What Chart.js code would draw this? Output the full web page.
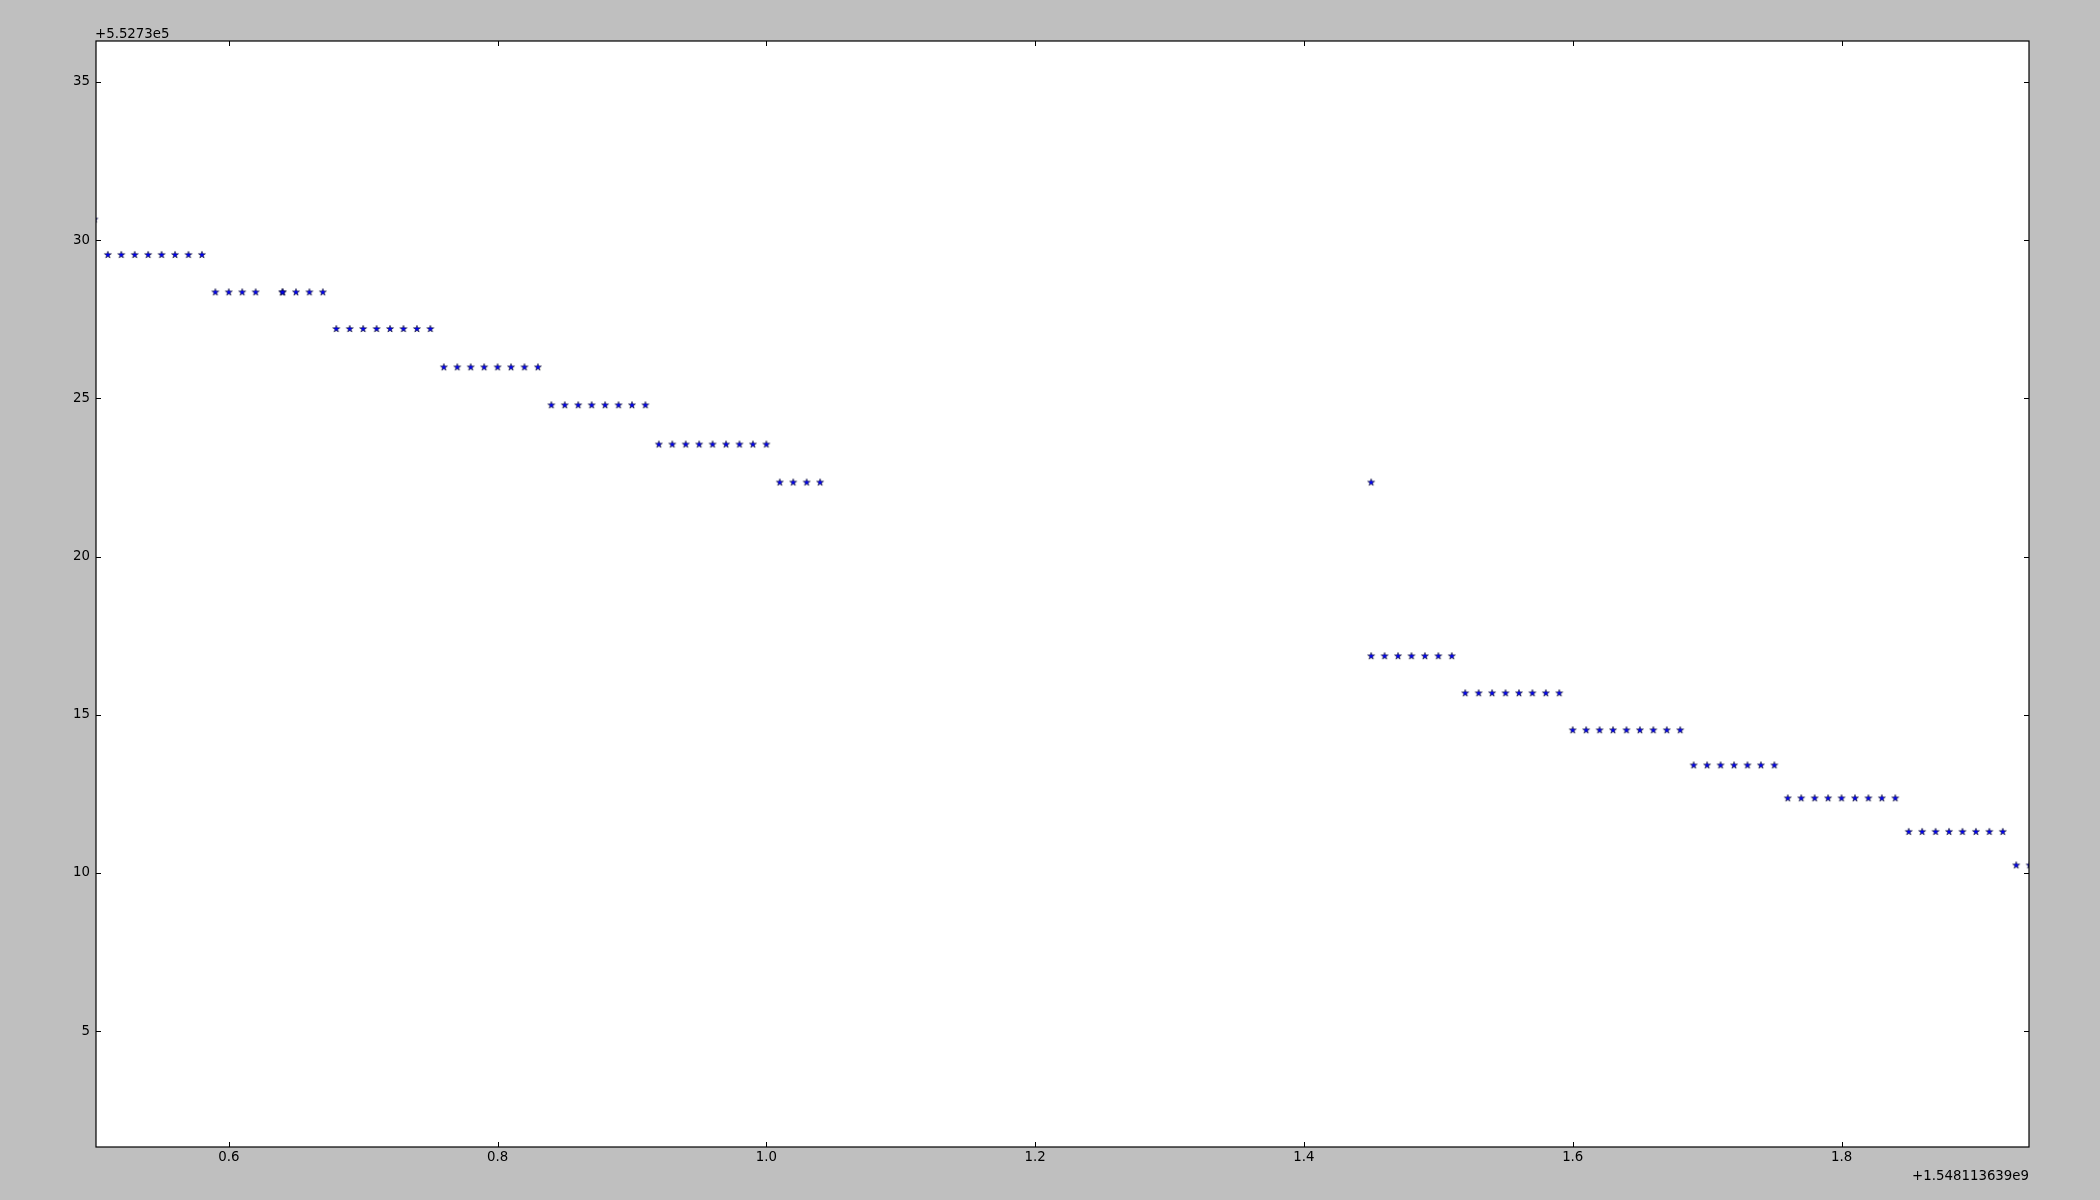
<!DOCTYPE html>
<html>
<head>
<meta charset="utf-8">
<script src="https://cdn.jsdelivr.net/npm/chart.js@4.4.1/dist/chart.umd.min.js"></script>
<style>
  body { margin: 0; background: #bfbfbf; }
  canvas { display: block; }
</style>
</head>
<body>
<canvas id="chart" width="2100" height="1200"></canvas>
<script>
// x: seconds, offset +1.548113639e9 ; y: offset +5.5273e5
// one level per group of samples (the value steps down over time)
const stepLevels = [30.65, 29.53, 28.35, 27.19, 25.98, 24.78, 23.54, 22.34, 22.34, 16.85, 15.68, 14.51, 13.40, 12.36, 11.30, 10.24];
const stepTimes = [
  [0.50],
  [0.51, 0.52, 0.53, 0.54, 0.55, 0.56, 0.57, 0.58],
  [0.59, 0.60, 0.61, 0.62, 0.64, 0.64, 0.65, 0.66, 0.67],
  [0.68, 0.69, 0.70, 0.71, 0.72, 0.73, 0.74, 0.75],
  [0.76, 0.77, 0.78, 0.79, 0.80, 0.81, 0.82, 0.83],
  [0.84, 0.85, 0.86, 0.87, 0.88, 0.89, 0.90, 0.91],
  [0.92, 0.93, 0.94, 0.95, 0.96, 0.97, 0.98, 0.99, 1.00],
  [1.01, 1.02, 1.03, 1.04],
  [1.45],
  [1.45, 1.46, 1.47, 1.48, 1.49, 1.50, 1.51],
  [1.52, 1.53, 1.54, 1.55, 1.56, 1.57, 1.58, 1.59],
  [1.60, 1.61, 1.62, 1.63, 1.64, 1.65, 1.66, 1.67, 1.68],
  [1.69, 1.70, 1.71, 1.72, 1.73, 1.74, 1.75],
  [1.76, 1.77, 1.78, 1.79, 1.80, 1.81, 1.82, 1.83, 1.84],
  [1.85, 1.86, 1.87, 1.88, 1.89, 1.90, 1.91, 1.92],
  [1.93, 1.94]
];
const xTicks = [0.6, 0.8, 1.0, 1.2, 1.4, 1.6, 1.8];
const yTicks = [5, 10, 15, 20, 25, 30, 35];
const xLimits = [0.5012, 1.9395];
const yLimits = [1.34, 36.29];
const xOffsetText = "+1.548113639e9";
const yOffsetText = "+5.5273e5";

const points = [];
stepTimes.forEach((times, i) => {
  times.forEach(t => points.push({ x: t, y: stepLevels[i] }));
});

// matplotlib-like '*' marker
function makeStar() {
  const c = document.createElement("canvas");
  c.width = 12; c.height = 12;
  const g = c.getContext("2d");
  const R = 3.7, r = R * 0.382;
  g.beginPath();
  for (let k = 0; k < 10; k++) {
    const rad = k % 2 === 0 ? R : r;
    const a = -Math.PI / 2 + k * Math.PI / 5;
    const px = 6 + rad * Math.cos(a), py = 6 + rad * Math.sin(a);
    if (k === 0) g.moveTo(px, py); else g.lineTo(px, py);
  }
  g.closePath();
  g.fillStyle = "#0000ff";
  g.fill();
  g.lineWidth = 0.5;
  g.strokeStyle = "#000";
  g.stroke();
  return c;
}
const star = makeStar();

const FONT = "'DejaVu Sans', sans-serif";
const FONT_SIZE = 13.33;

const framePlugin = {
  id: "frame",
  beforeDraw(chart) {
    const { ctx, chartArea: a } = chart;
    ctx.save();
    ctx.fillStyle = "#fff";
    ctx.fillRect(a.left, a.top, a.right - a.left, a.bottom - a.top);
    ctx.restore();
  },
  afterDraw(chart) {
    const { ctx, chartArea: a } = chart;
    const xs = chart.scales.x, ys = chart.scales.y;
    const len = 5;
    ctx.save();
    ctx.strokeStyle = "#000";
    ctx.lineWidth = 1;
    ctx.beginPath();
    xTicks.forEach(v => {
      const px = Math.round(xs.getPixelForValue(v)) + 0.5;
      ctx.moveTo(px, a.bottom); ctx.lineTo(px, a.bottom - len);
      ctx.moveTo(px, a.top); ctx.lineTo(px, a.top + len);
    });
    yTicks.forEach(v => {
      const py = Math.round(ys.getPixelForValue(v)) + 0.5;
      ctx.moveTo(a.left, py); ctx.lineTo(a.left + len, py);
      ctx.moveTo(a.right, py); ctx.lineTo(a.right - len, py);
    });
    ctx.stroke();
    ctx.lineWidth = 1.2;
    ctx.strokeRect(a.left, a.top, a.right - a.left, a.bottom - a.top);

    ctx.fillStyle = "#000";
    ctx.font = FONT_SIZE + "px " + FONT;
    ctx.textBaseline = "alphabetic";
    ctx.textAlign = "left";
    ctx.fillText(yOffsetText, a.left - 1, a.top - 3);
    ctx.textAlign = "right";
    ctx.fillText(xOffsetText, a.right, a.bottom + 33);
    ctx.restore();
  }
};

new Chart(document.getElementById("chart"), {
  type: "scatter",
  data: {
    datasets: [{
      data: points,
      pointStyle: star,
      showLine: false,
      clip: 0
    }]
  },
  options: {
    responsive: false,
    devicePixelRatio: 1,
    animation: false,
    layout: { padding: { top: 41, right: 71, left: 0, bottom: 0 } },
    plugins: { legend: { display: false }, tooltip: { enabled: false } },
    scales: {
      x: {
        type: "linear",
        min: xLimits[0],
        max: xLimits[1],
        grid: { display: false, drawTicks: false },
        border: { display: false },
        afterBuildTicks: s => { s.ticks = xTicks.map(v => ({ value: v })); },
        afterFit: s => { s.height = 53; },
        ticks: {
          color: "#000",
          font: { family: FONT, size: FONT_SIZE },
          padding: 3,
          maxRotation: 0,
          callback: v => v.toFixed(1)
        }
      },
      y: {
        type: "linear",
        min: yLimits[0],
        max: yLimits[1],
        grid: { display: false, drawTicks: false },
        border: { display: false },
        afterBuildTicks: s => { s.ticks = yTicks.map(v => ({ value: v })); },
        afterFit: s => { s.width = 96; },
        ticks: {
          color: "#000",
          font: { family: FONT, size: FONT_SIZE },
          padding: 6,
          callback: v => String(v)
        }
      }
    }
  },
  plugins: [framePlugin]
});
</script>
</body>
</html>
